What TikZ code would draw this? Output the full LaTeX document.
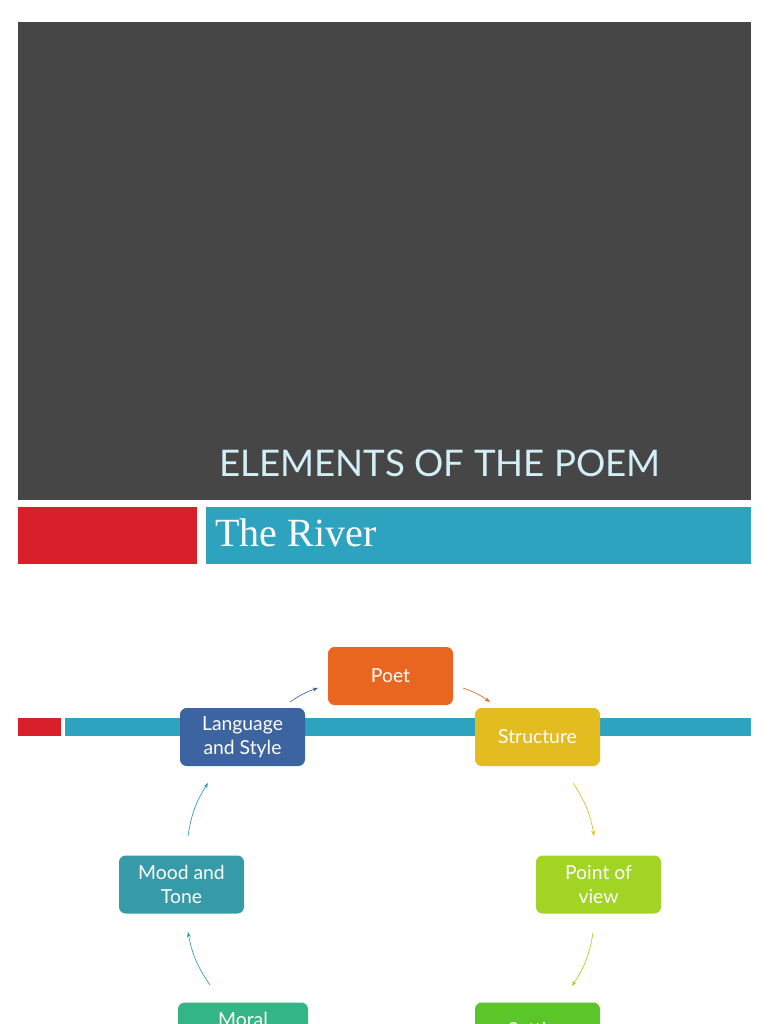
\documentclass[tikz,border=0pt]{standalone}
\usepackage{fontspec}
\setmainfont{Lato}
\newfontfamily\serifr{Liberation Serif}
\usetikzlibrary{arrows.meta}
\definecolor{dark}{HTML}{464646}
\definecolor{rred}{HTML}{D9202A}
\definecolor{rblue}{HTML}{2EA3C0}
\definecolor{ttl}{HTML}{D2EEF7}
\definecolor{cpoet}{HTML}{E8661F}
\definecolor{cstruct}{HTML}{E3BC1F}
\definecolor{cpov}{HTML}{A2D424}
\definecolor{cset}{HTML}{5AC62A}
\definecolor{cmoral}{HTML}{33B585}
\definecolor{cmood}{HTML}{379AA8}
\definecolor{clang}{HTML}{3B64A0}
\tikzset{
 elem/.style={fill=#1, rounded corners=5pt, minimum width=93.75pt, minimum height=43.5pt, inner sep=0pt, text=white, font=\fontsize{14.5}{18}\selectfont, align=center},
 cyc/.style={draw=#1, line width=0.5pt, -{Stealth[length=4pt,width=3pt]}},
}
\begin{document}
\begin{tikzpicture}[x=0.75pt,y=-0.75pt]
\useasboundingbox (0,0) rectangle (768,1024);
\clip (0,0) rectangle (768,1024);
\fill[dark] (18,22) rectangle (751,500);
\node[text=ttl, font=\fontsize{27.5}{32}\selectfont, anchor=base] (title) at (440,476) {ELEMENTS OF THE POEM};
\fill[rred] (18,507) rectangle (197,564);
\fill[rblue] (206,507) rectangle (751,564);
\node[text=white, font=\serifr\fontsize{30}{34}\selectfont, anchor=base west, inner sep=0pt] (river) at (215,546) {The River};
\fill[rred] (18,718) rectangle (61,736);
\fill[rblue] (65,718) rectangle (751,736);
\node[elem=cpoet] (poet) at (390.5,676) {Poet};
\node[elem=cstruct] (struct) at (537.5,737) {Structure};
\node[elem=cpov] (pov) at (598.5,884.5) {Point of\\view};
\node[elem=cset] (set) at (537.5,1031.5) {Setting};
\node[elem=cmoral, minimum width=97.5pt] (moral) at (243,1031.5) {Moral\\Lesson};
\node[elem=cmood] (mood) at (181.5,884.5) {Mood and\\Tone};
\node[elem=clang] (lang) at (242.5,737) {Language\\and Style};
\coordinate (a1) at (290,702); \coordinate (b1) at (318,688);
\coordinate (a2) at (463,688); \coordinate (b2) at (490,702);
\coordinate (a3) at (573,783); \coordinate (b3) at (594,836);
\coordinate (a4) at (593,933); \coordinate (b4) at (572,986);
\coordinate (a5) at (210,985); \coordinate (b5) at (188,932);
\coordinate (a6) at (188,836); \coordinate (b6) at (208,783);
\draw[cyc=clang] (a1) to[bend left=8] (b1);
\draw[cyc=cpoet] (a2) to[bend left=8] (b2);
\draw[cyc=cstruct] (a3) to[bend left=12] (b3);
\draw[cyc=cpov] (a4) to[bend left=12] (b4);
\draw[cyc=cmood] (a5) to[bend left=12] (b5);
\draw[cyc=cmood] (a6) to[bend left=12] (b6);
\end{tikzpicture}
\end{document}
